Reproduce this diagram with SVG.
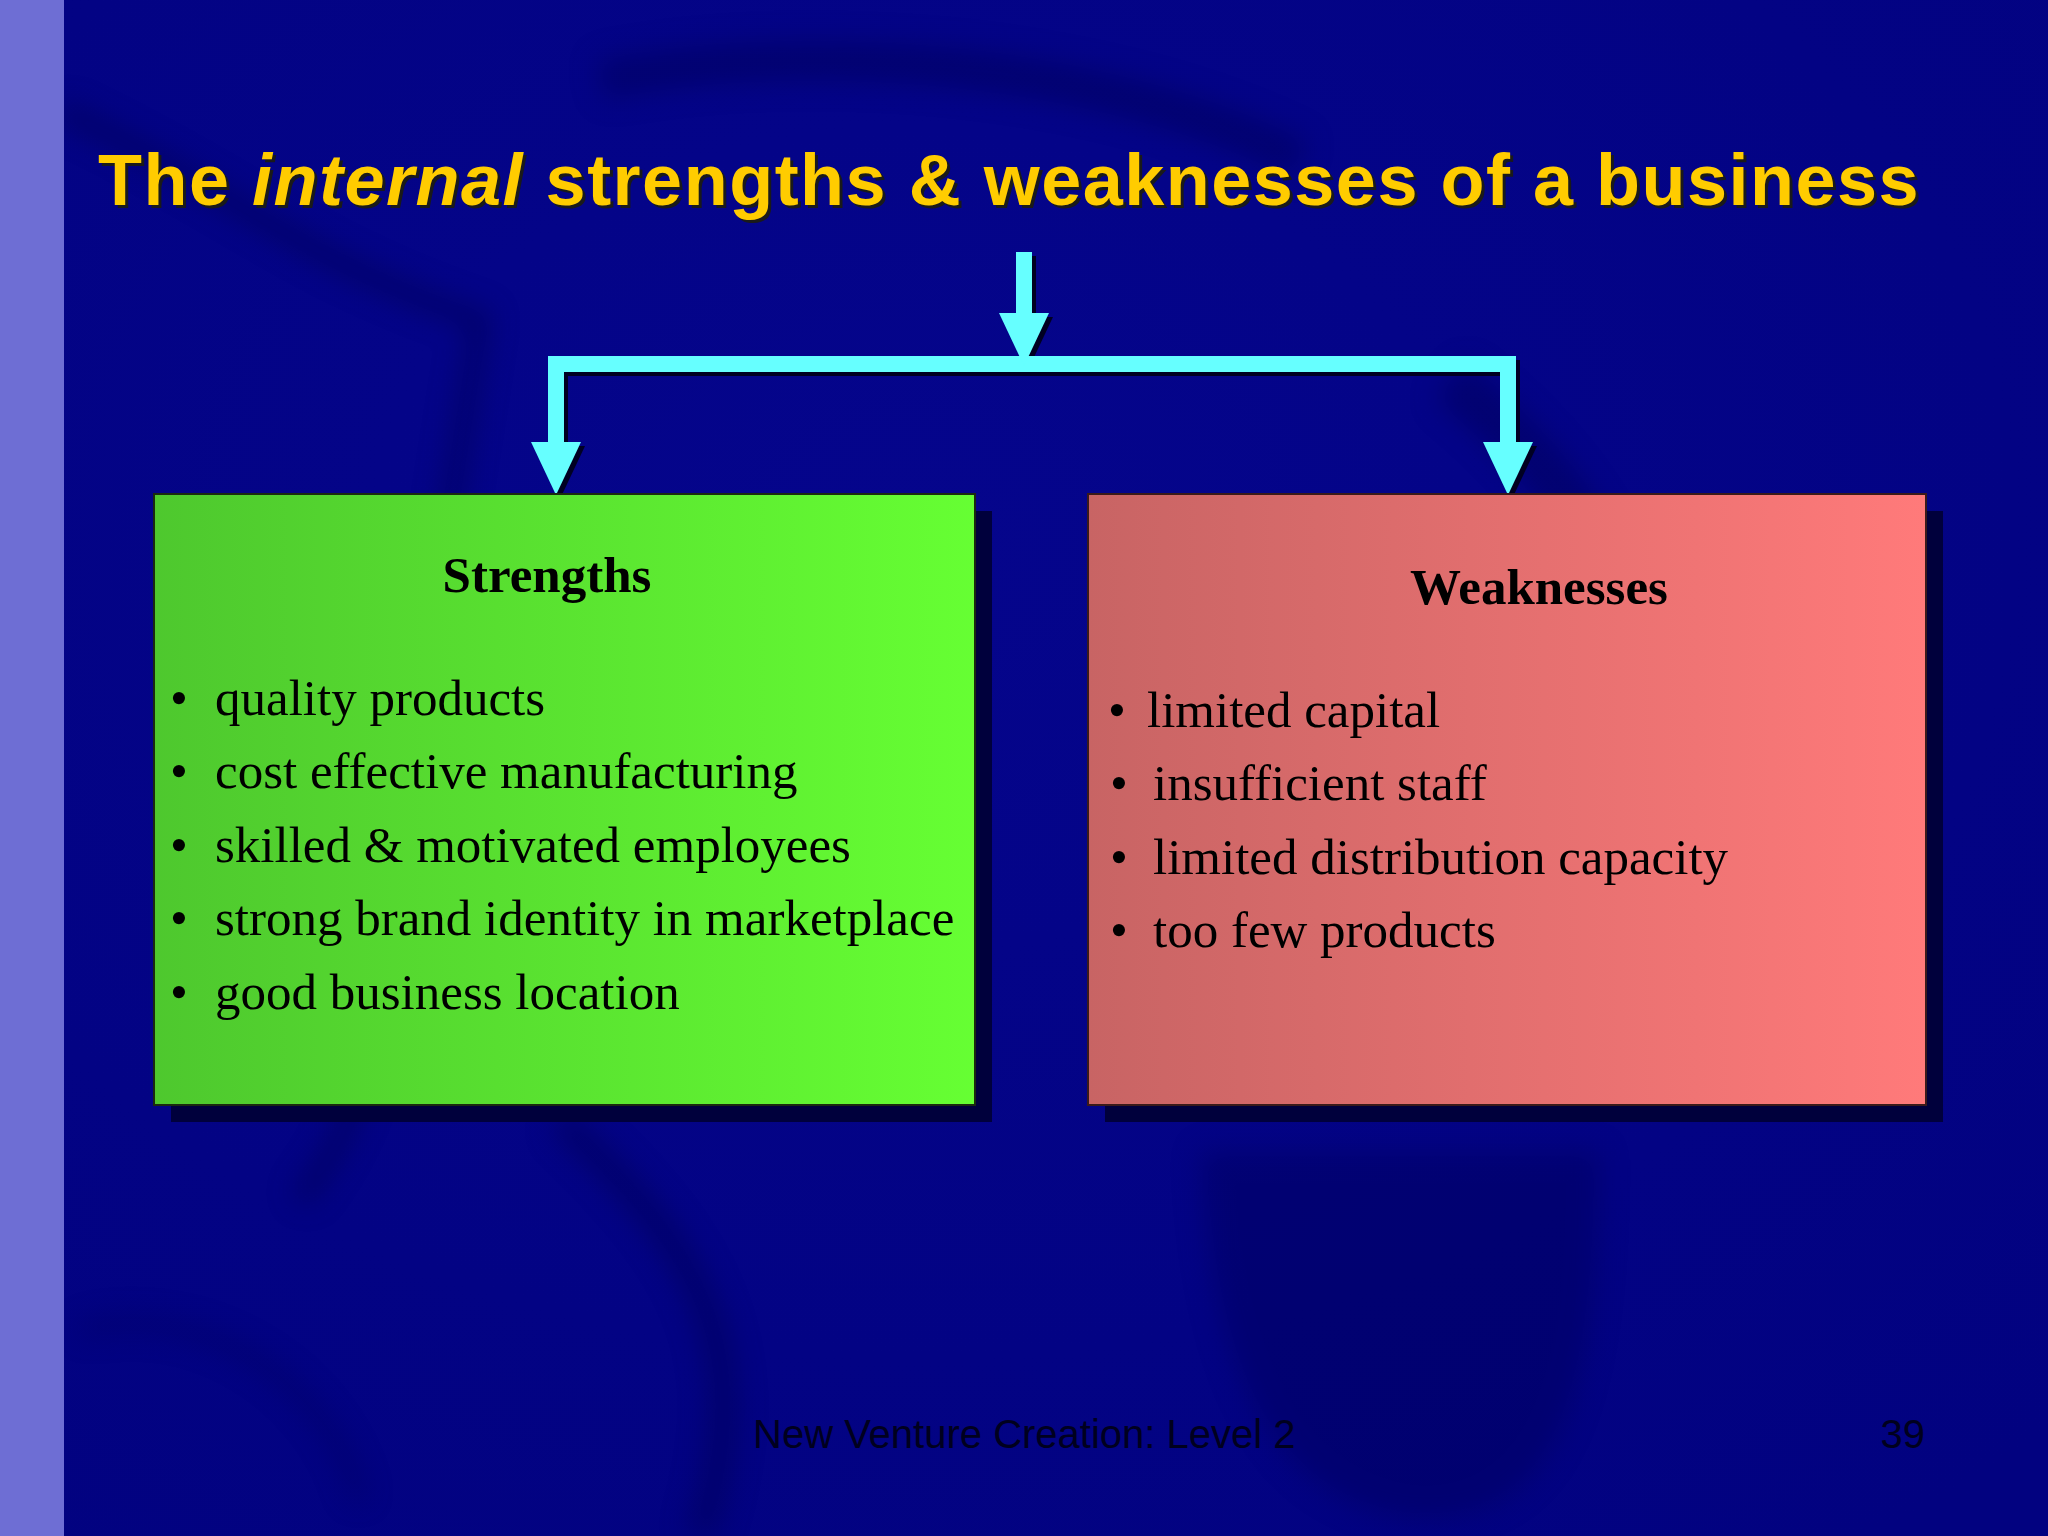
<svg xmlns="http://www.w3.org/2000/svg" width="2048" height="1536" viewBox="0 0 2048 1536">
<defs>
<linearGradient id="gGreen" x1="0" y1="0" x2="1" y2="0">
<stop offset="0" stop-color="#4ec82e"/>
<stop offset="1" stop-color="#66ff33"/>
</linearGradient>
<linearGradient id="gRed" x1="0" y1="0" x2="1" y2="0">
<stop offset="0" stop-color="#c86464"/>
<stop offset="1" stop-color="#ff7a7a"/>
</linearGradient>
<radialGradient id="bgGlow" cx="0.45" cy="0.35" r="0.8">
<stop offset="0" stop-color="#05058c"/>
<stop offset="1" stop-color="#020280"/>
</radialGradient>
<filter id="blur" x="-20%" y="-20%" width="140%" height="140%"><feGaussianBlur stdDeviation="14"/></filter>
<style>
.title{font-family:"Liberation Sans",Arial,sans-serif;font-weight:bold;font-size:72px;letter-spacing:1.5px}
.head{font-family:"Liberation Serif","Times New Roman",serif;font-weight:bold;font-size:51px;fill:#000;text-anchor:middle}
.item{font-family:"Liberation Serif","Times New Roman",serif;font-size:51px;fill:#000}
.foot{font-family:"Liberation Sans",Arial,sans-serif;font-size:40px;fill:#00001e}
.conn{fill:none;stroke:#66ffff;stroke-width:16;stroke-linejoin:miter}
.connS{fill:none;stroke:#000022;stroke-width:16;stroke-linejoin:miter}
.head-tri{fill:#66ffff}
.head-triS{fill:#000022}
.boxS{fill:#00003c}
</style>
</defs>

<!-- background -->
<rect x="0" y="0" width="2048" height="1536" fill="url(#bgGlow)"/>
<g opacity="0.5" filter="url(#blur)">
<path d="M60,110 C250,200 300,260 480,320 L420,700 C360,900 420,1050 300,1200" fill="none" stroke="#000050" stroke-width="22"/>
<path d="M600,80 C800,40 1100,60 1300,160" fill="none" stroke="#00005a" stroke-width="40"/>
<path d="M1200,1150 C1210,1420 1300,1510 1420,1520 C1560,1520 1600,1400 1600,1150" fill="#000060"/>
<path d="M560,1120 C700,1250 760,1350 700,1536" fill="none" stroke="#000055" stroke-width="30"/>
<path d="M80,1330 C200,1300 330,1380 360,1500" fill="none" stroke="#00005a" stroke-width="14"/>
<path d="M1450,380 C1600,500 1650,620 1620,760" fill="none" stroke="#00005a" stroke-width="50"/>
</g>
<rect x="0" y="0" width="64" height="1536" fill="#6e6ed4"/>

<!-- title -->
<g id="title">
<text class="title" x="101" y="208" fill="#1a1a1a">The <tspan font-style="italic">internal</tspan> strengths &amp; weaknesses of a business</text>
<text class="title" x="98" y="205" fill="#ffcc00">The <tspan font-style="italic">internal</tspan> strengths &amp; weaknesses of a business</text>
</g>

<!-- connectors -->
<g id="connectors">
<g transform="translate(4,4)">
<path class="connS" d="M1024,252 V318"/>
<polygon class="head-triS" points="999,313 1049,313 1024,366"/>
<path class="connS" d="M1024,364 H556 V446"/>
<polygon class="head-triS" points="531,442 581,442 556,495"/>
<path class="connS" d="M1024,364 H1508 V446"/>
<polygon class="head-triS" points="1483,442 1533,442 1508,495"/>
</g>
<path class="conn" d="M1024,364 H556 V446"/>
<polygon class="head-tri" points="531,442 581,442 556,495"/>
<path class="conn" d="M1024,364 H1508 V446"/>
<polygon class="head-tri" points="1483,442 1533,442 1508,495"/>
<path class="conn" d="M1024,252 V318"/>
<polygon class="head-tri" points="999,313 1049,313 1024,366"/>
</g>

<!-- strengths -->
<g id="strengths">
<rect class="boxS" x="171" y="511" width="821" height="611"/>
<rect x="154" y="494" width="821" height="611" fill="url(#gGreen)" stroke="#1a2a10" stroke-width="2"/>
<text class="head" x="547" y="592">Strengths</text>
<g class="item">
<text x="170" y="715">•</text><text x="215" y="715">quality products</text>
<text x="170" y="788">•</text><text x="215" y="788">cost effective manufacturing</text>
<text x="170" y="862">•</text><text x="215" y="862">skilled &amp; motivated employees</text>
<text x="170" y="935">•</text><text x="215" y="935">strong brand identity in marketplace</text>
<text x="170" y="1009">•</text><text x="215" y="1009">good business location</text>
</g>
</g>

<!-- weaknesses -->
<g id="weaknesses">
<rect class="boxS" x="1105" y="511" width="838" height="611"/>
<rect x="1088" y="494" width="838" height="611" fill="url(#gRed)" stroke="#3a1a1a" stroke-width="2"/>
<text class="head" x="1539" y="604">Weaknesses</text>
<g class="item">
<text x="1108" y="727">•</text><text x="1147" y="727">limited capital</text>
<text x="1110" y="800">•</text><text x="1153" y="800">insufficient staff</text>
<text x="1110" y="874">•</text><text x="1153" y="874">limited distribution capacity</text>
<text x="1110" y="947">•</text><text x="1153" y="947">too few products</text>
</g>
</g>

<!-- footer -->
<g id="footer">
<text class="foot" x="753" y="1448">New Venture Creation: Level 2</text>
<text class="foot" x="1925" y="1448" text-anchor="end">39</text>
</g>
</svg>
